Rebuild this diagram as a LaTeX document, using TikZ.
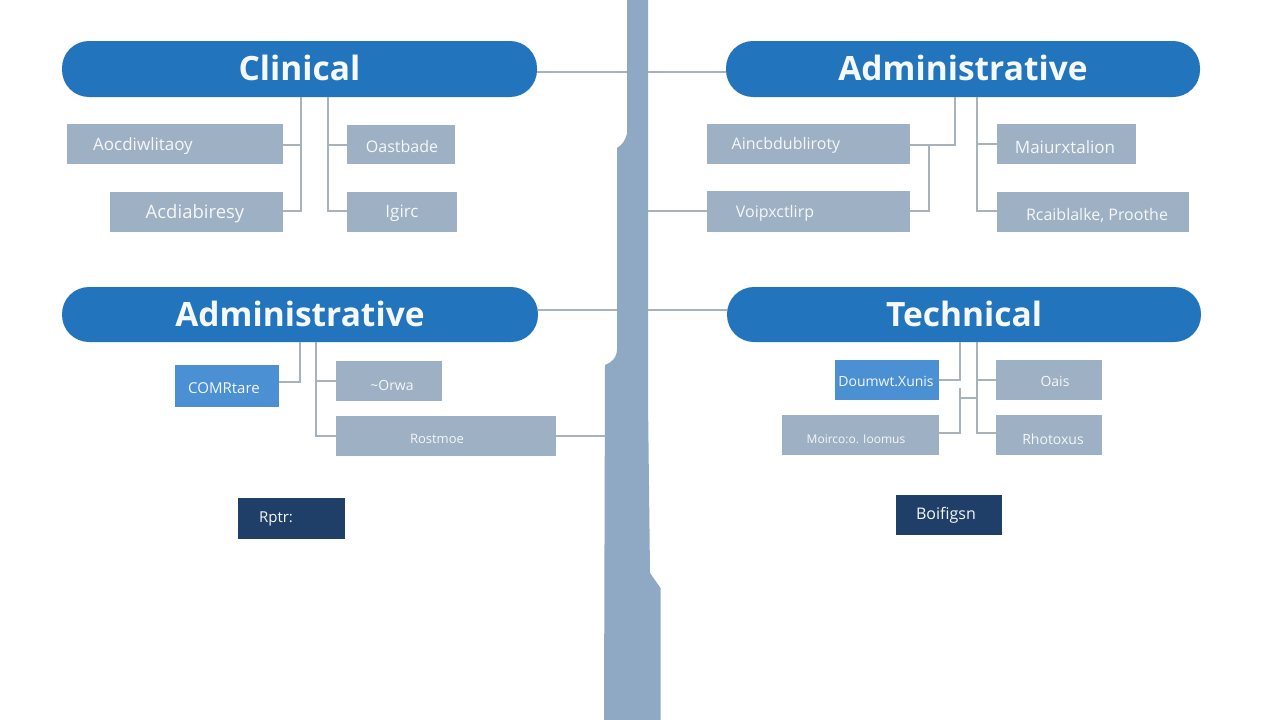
\documentclass[tikz,border=0pt]{standalone}
\usepackage{fontspec}
\setmainfont{Open Sans}
\definecolor{pillc}{HTML}{2274BC}
\definecolor{trunkc}{HTML}{8FA9C4}
\definecolor{boxc}{HTML}{9EB0C3}
\definecolor{midb}{HTML}{4A90D2}
\definecolor{darkb}{HTML}{1F3F68}
\definecolor{linkc}{HTML}{A8B2BB}
\tikzset{
  x=1pt,y=-1pt,
  pill/.style={rounded corners=27pt,fill=pillc,draw=none,text=white!96!pillc,font=\bfseries\fontsize{33.5}{36}\selectfont},
  plain/.style={fill=boxc,draw=none,inner sep=0pt},
  mid/.style={fill=midb,draw=none,inner sep=0pt},
  dark/.style={fill=darkb,draw=none,inner sep=0pt},
  lbl/.style={inner sep=0pt,text=white!90!boxc,font=\fontsize{16}{18}\selectfont},
  link/.style={draw=linkc,line width=2.7pt},
}
\newcommand{\fs}[2]{{\fontsize{#1}{#1}\selectfont #2}}
% name, x1, y1, x2, y2, style, text x, text y, text
\newcommand{\bx}[9]{%
  \node[#6,minimum width={(#4-#2)*1pt},minimum height={(#5-#3)*1pt}] (#1) at ({(#2+#4)/2},{(#3+#5)/2}) {};
  \node[lbl] (#1-t) at (#7,#8) {#9};
}
\newcommand{\pl}[6]{%
  \node[pill,inner sep=0pt,minimum width={(#4-#2)*1pt},minimum height={(#5-#3)*1pt}] (#1) at ({(#2+#4)/2},{(#3+#5)/2}) {\raisebox{2pt}{#6}};
}
\begin{document}
\begin{tikzpicture}
\useasboundingbox (0,0) rectangle (1280,720);
\fill[white] (0,0) rectangle (1280,720);
\coordinate (trunkTL) at (627,72);
\coordinate (trunkTR) at (648,72);
\coordinate (trunkAL) at (617,310);
\coordinate (trunkAR) at (648,310);
\coordinate (trunkVR) at (648,211);
\coordinate (trunkRL) at (605,436);
% trunk
\fill[trunkc] (627,0) -- (648,0) -- (648,400) -- (650,573) -- (660.5,588) -- (660.5,720) -- (604,720)
  -- (605,365) .. controls (611,363) and (617,358) .. (617,349)
  -- (617,148) .. controls (622,145) and (625,141) .. (627,134) -- cycle;
% pills
\pl{clin}{62}{41}{537}{97}{Clinical}
\pl{admR}{726}{41}{1200}{97}{Administrative}
\pl{admL}{62}{287}{538}{342}{Administrative}
\pl{tech}{727}{287}{1201}{342}{Technical}
% boxes
\bx{a1}{67}{124}{283}{164}{plain}{143}{146}{\fs{17}{Aocdiwlitaoy}}
\bx{a2}{347}{125}{455}{164}{plain}{402}{146}{Oastbade}
\bx{a3}{110}{192}{283}{232}{plain}{195}{214}{\fs{18.5}{Acdiabiresy}}
\bx{a4}{347}{192}{457}{232}{plain}{402}{213}{\fs{17}{Igirc}}
\bx{b1}{707}{124}{910}{164}{plain}{786}{145}{Aincbdubliroty}
\bx{b2}{997}{124}{1136}{164}{plain}{1065}{147}{\fs{17}{Maiurxtalion}}
\bx{b3}{707}{191}{910}{232}{plain}{775}{213}{Voipxctlirp}
\bx{b4}{997}{192}{1189}{232}{plain}{1097}{215}{Rcaiblalke, Proothe}
\bx{c1}{175}{365}{279}{407}{mid}{224}{388}{\fs{15}{COMRtare}}
\bx{c2}{336}{361}{442}{401}{plain}{392}{385}{\fs{14}{\textasciitilde Orwa}}
\bx{c3}{336}{416}{556}{456}{plain}{437}{439}{\fs{13}{Rostmoe}}
\bx{c4}{238}{498}{345}{539}{dark}{276}{519}{\fs{15}{Rptr:}}
\bx{d1}{835}{360}{939}{400}{mid}{886}{381}{\fs{14}{Doumwt.Xunis}}
\bx{d2}{996}{360}{1102}{400}{plain}{1055}{381}{\fs{14}{Oais}}
\bx{d3}{782}{415}{939}{455}{plain}{856}{439}{\fs{12}{Moirco:o. Ioomus}}
\bx{d4}{996}{415}{1102}{455}{plain}{1053}{439}{\fs{14}{Rhotoxus}}
\bx{d5}{896}{495}{1002}{535}{dark}{946}{515}{Boifigsn}
% trunk links
\draw[link] (clin.east|-trunkTL) -- (trunkTL);
\draw[link] (trunkTR) -- (admR.west|-trunkTR);
\draw[link] (admL.east|-trunkAL) -- (trunkAL);
\draw[link] (trunkAR) -- (tech.west|-trunkAR);
\draw[link] (trunkVR) -- (b3.west|-trunkVR);
\draw[link] (c3.east|-trunkRL) -- (trunkRL);
% clinical branches
\draw[link] (301,97) -- (301,211) -- (a3.east|-0,211);
\draw[link] (a1.east|-0,145) -- (301,145);
\draw[link] (328,97) -- (328,211) -- (a4.west|-0,211);
\draw[link] (328,145) -- (a2.west|-0,145);
% admin right branches
\draw[link] (955,97) -- (955,145) -- (b1.east|-0,145);
\draw[link] (929,145) -- (929,211) -- (b3.east|-0,211);
\draw[link] (977,97) -- (977,211) -- (b4.west|-0,211);
\draw[link] (977,144) -- (b2.west|-0,144);
% admin left branches
\draw[link] (300,342) -- (300,382) -- (c1.east|-0,382);
\draw[link] (316,342) -- (316,436) -- (c3.west|-0,436);
\draw[link] (316,381) -- (c2.west|-0,381);
% technical branches
\draw[link] (960,342) -- (960,380) -- (d1.east|-0,380);
\draw[link] (977,342) -- (977,433) -- (d4.west|-0,433);
\draw[link] (977,380) -- (d2.west|-0,380);
\draw[link] (960,388) -- (960,433) -- (d3.east|-0,433);
\draw[link] (960,398) -- (977,398);
\end{tikzpicture}
\end{document}
